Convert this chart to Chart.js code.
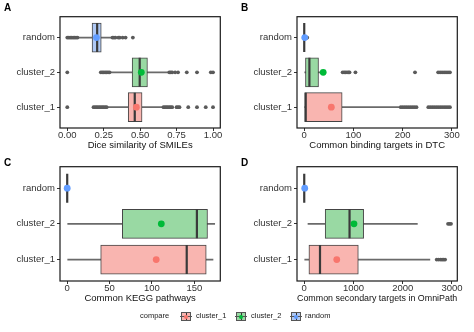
<!DOCTYPE html>
<html>
<head>
<meta charset="utf-8">
<script src="https://cdn.jsdelivr.net/npm/chart.js@4.4.0/dist/chart.umd.min.js"></script>
<style>
body{margin:0;background:#fff;width:474px;height:332px;position:relative;overflow:hidden;font-family:"Liberation Sans",Arial,sans-serif}
canvas{position:absolute}
.tag{position:absolute;font-weight:bold;font-size:10px;line-height:10px;color:#000}
.lg{position:absolute;top:311px;font-size:7.5px;line-height:10px;color:#222}
.key{position:absolute;top:312px;width:8px;height:7px;border:1px solid #555}
.key .wh{position:absolute;left:-2px;right:-2px;top:3px;height:1px;background:#555}
.key .md{position:absolute;left:3.5px;top:0;width:1.5px;height:7px;background:#333}
.key .dt{position:absolute;left:2px;top:1.5px;width:4px;height:4px;border-radius:50%}
</style>
</head>
<body>
<canvas id="pA" width="237" height="151" style="left:0;top:0"></canvas>
<canvas id="pB" width="237" height="151" style="left:237px;top:0"></canvas>
<canvas id="pC" width="237" height="155" style="left:0;top:150px"></canvas>
<canvas id="pD" width="237" height="155" style="left:237px;top:150px"></canvas>
<div class="tag" style="left:4px;top:3px">A</div>
<div class="tag" style="left:241px;top:3px">B</div>
<div class="tag" style="left:4px;top:158px">C</div>
<div class="tag" style="left:241px;top:158px">D</div>

<div class="lg" style="left:140px">compare</div>
<div class="key" style="left:181px;background:#F9B5B0"><div class="wh"></div><div class="md"></div><div class="dt" style="background:#F8766D"></div></div>
<div class="lg" style="left:196px">cluster_1</div>
<div class="key" style="left:236px;background:#99D9A3"><div class="wh"></div><div class="md"></div><div class="dt" style="background:#00BA38"></div></div>
<div class="lg" style="left:251px">cluster_2</div>
<div class="key" style="left:291px;background:#AFC9F5"><div class="wh"></div><div class="md"></div><div class="dt" style="background:#619CFF"></div></div>
<div class="lg" style="left:305px">random</div>

<script>
// categories, top to bottom
var groups = ['random', 'cluster_2', 'cluster_1'];
var boxFill = ['#AFC9F5', '#99D9A3', '#F9B5B0'];
var meanColor = ['#619CFF', '#00BA38', '#F8766D'];

// A: Dice similarity of SMILEs
var aLo = [0.08, 0.30, 0.27];
var aQ1 = [0.17, 0.445, 0.418];
var aMed = [0.205, 0.497, 0.463];
var aQ3 = [0.233, 0.55, 0.513];
var aHi = [0.30, 0.69, 0.65];
var aMean = [0.20, 0.508, 0.474];
var aOutRandom = [0, 0.01, 0.02, 0.03, 0.04, 0.05, 0.06, 0.07, 0.31, 0.32, 0.33, 0.35, 0.36, 0.38, 0.40, 0.45];
var aOutCluster2 = [0, 0.23, 0.24, 0.25, 0.26, 0.27, 0.28, 0.29, 0.70, 0.71, 0.72, 0.74, 0.76, 0.82, 0.89, 0.985, 1.0];
var aOutCluster1 = [0, 0.18, 0.19, 0.20, 0.21, 0.22, 0.23, 0.24, 0.25, 0.26, 0.27, 0.66, 0.67, 0.68, 0.69, 0.70, 0.71, 0.72, 0.75, 0.76, 0.77, 0.83, 0.89, 0.95, 1.0];
var aTicks = [0, 0.25, 0.5, 0.75, 1];
var aTickLabels = ['0.00', '0.25', '0.50', '0.75', '1.00'];

// B: Common binding targets in DTC
var bLo = [0, 0, 0];
var bQ1 = [0, 2.5, 0];
var bMed = [0, 10.5, 3];
var bQ3 = [0, 29, 77];
var bHi = [0, 34, 193];
var bMean = [1, 38.5, 55];
var bOutRandom = [2, 3, 4, 5, 6];
var bOutCluster2 = [78, 81, 84, 87, 90, 92, 104, 225, 272, 276, 280, 284, 288, 292, 296];
var bOutCluster1 = [196, 200, 204, 208, 212, 216, 220, 224, 228, 252, 256, 260, 264, 268, 272, 276, 280, 284, 288, 292, 296];
var bTicks = [0, 100, 200, 300];
var bTickLabels = ['0', '100', '200', '300'];

// C: Common KEGG pathways
var cLo = [0, 0, 0];
var cQ1 = [0, 65, 39.5];
var cMed = [0, 153, 141];
var cQ3 = [0, 165.5, 164];
var cHi = [0, 174, 172];
var cMean = [0, 111, 105];
var cTicks = [0, 50, 100, 150];
var cTickLabels = ['0', '50', '100', '150'];

// D: Common secondary targets in OmniPath
var dLo = [0, 76, 10];
var dQ1 = [0, 425, 95];
var dMed = [0, 920, 320];
var dQ3 = [0, 1206, 1098];
var dHi = [10, 2297, 2551];
var dMean = [10, 1010, 660];
var dOutCluster2 = [2920, 2950, 2980];
var dOutCluster1 = [2690, 2730, 2770, 2800, 2830, 2860];
var dTicks = [0, 1000, 2000, 3000];
var dTickLabels = ['0', '1000', '2000', '3000'];

// panel border
var frame = {
    id: 'frame',
    afterDatasetsDraw: function(chart) {
        var a = chart.chartArea, c = chart.ctx;
        c.save();
        c.strokeStyle = '#1a1a1a';
        c.lineWidth = 1.2;
        c.strokeRect(a.left, a.top, a.right - a.left, a.bottom - a.top);
        c.restore();
    }
};

function panel(id, lo, q1, med, q3, hi, mean, outs, xMin, xMax, ticks, tickLabels, title, padTop, bottomH) {
    var whisk = [], box = [], meds = [], means = [], pts = [];
    for (var i = 0; i < groups.length; i++) {
        whisk.push({x: [lo[i], hi[i]], y: i + 1});
        box.push({x: [q1[i], q3[i]], y: i + 1});
        meds.push({x: med[i], y: i + 1});
        means.push({x: mean[i], y: i + 1});
        (outs[i] || []).forEach(function(v) { pts.push({x: v, y: i + 1}); });
    }
    var font = {family: 'Liberation Sans', size: 9.5};
    return new Chart(document.getElementById(id), {
        type: 'bar',
        data: {
            datasets: [
                {type: 'bar', data: whisk, backgroundColor: '#6a6a6a', barThickness: 1, grouped: false, order: 5},
                {type: 'bar', data: box, backgroundColor: boxFill, borderColor: '#444', borderWidth: 1,
                    borderSkipped: false, barThickness: 29, grouped: false, order: 4},
                {type: 'scatter', data: meds, pointStyle: 'line', rotation: 90, pointRadius: 14.5,
                    pointBorderWidth: 2.2, pointBorderColor: '#3a3a3a', order: 3},
                {type: 'scatter', data: pts, pointRadius: 1.9, pointBorderWidth: 0,
                    pointBackgroundColor: '#5a5a5a', order: 2},
                {type: 'scatter', data: means, pointRadius: 3.4, pointBorderWidth: 0,
                    pointBackgroundColor: meanColor, order: 1}
            ]
        },
        options: {
            indexAxis: 'y',
            responsive: false,
            animation: false,
            events: [],
            layout: {padding: {left: 0, top: padTop, right: 6, bottom: 0}},
            plugins: {legend: {display: false}, tooltip: {enabled: false}},
            scales: {
                x: {
                    type: 'linear', position: 'bottom', min: xMin, max: xMax,
                    afterBuildTicks: function(s) { s.ticks = ticks.map(function(v) { return {value: v}; }); },
                    afterFit: function(s) { s.height = bottomH; },
                    grid: {drawOnChartArea: false, drawTicks: true, tickLength: 3, color: '#333', offset: false},
                    border: {display: false},
                    ticks: {autoSkip: false, maxRotation: 0, padding: -1, color: '#333', font: font,
                        callback: function(v, i) { return tickLabels[i]; }},
                    title: {display: true, text: title, color: '#111', font: font, padding: {top: 0, bottom: padTop > 5 ? 1 : 0}}
                },
                y: {
                    type: 'linear', position: 'left', min: 0.4, max: 3.6, reverse: true, offset: false,
                    afterBuildTicks: function(s) { s.ticks = [{value: 1}, {value: 2}, {value: 3}]; },
                    afterFit: function(s) { s.width = 60; },
                    grid: {drawOnChartArea: false, drawTicks: true, tickLength: 3, color: '#333', offset: false},
                    border: {display: false},
                    ticks: {autoSkip: false, padding: 2, color: '#333', font: font,
                        callback: function(v) { return groups[v - 1]; }}
                }
            }
        },
        plugins: [frame]
    });
}

panel('pA', aLo, aQ1, aMed, aQ3, aHi, aMean, [aOutRandom, aOutCluster2, aOutCluster1],
    -0.05, 1.05, aTicks, aTickLabels, 'Dice similarity of SMILEs', 4, 23);
panel('pB', bLo, bQ1, bMed, bQ3, bHi, bMean, [bOutRandom, bOutCluster2, bOutCluster1],
    -14.7, 310.9, bTicks, bTickLabels, 'Common binding targets in DTC', 4, 23);
panel('pC', cLo, cQ1, cMed, cQ3, cHi, cMean, [[], [], []],
    -8.5, 180.6, cTicks, cTickLabels, 'Common KEGG pathways', 9, 24);
panel('pD', dLo, dQ1, dMed, dQ3, dHi, dMean, [[], dOutCluster2, dOutCluster1],
    -147, 3108, dTicks, dTickLabels, 'Common secondary targets in OmniPath', 9, 24);
</script>
</body>
</html>
